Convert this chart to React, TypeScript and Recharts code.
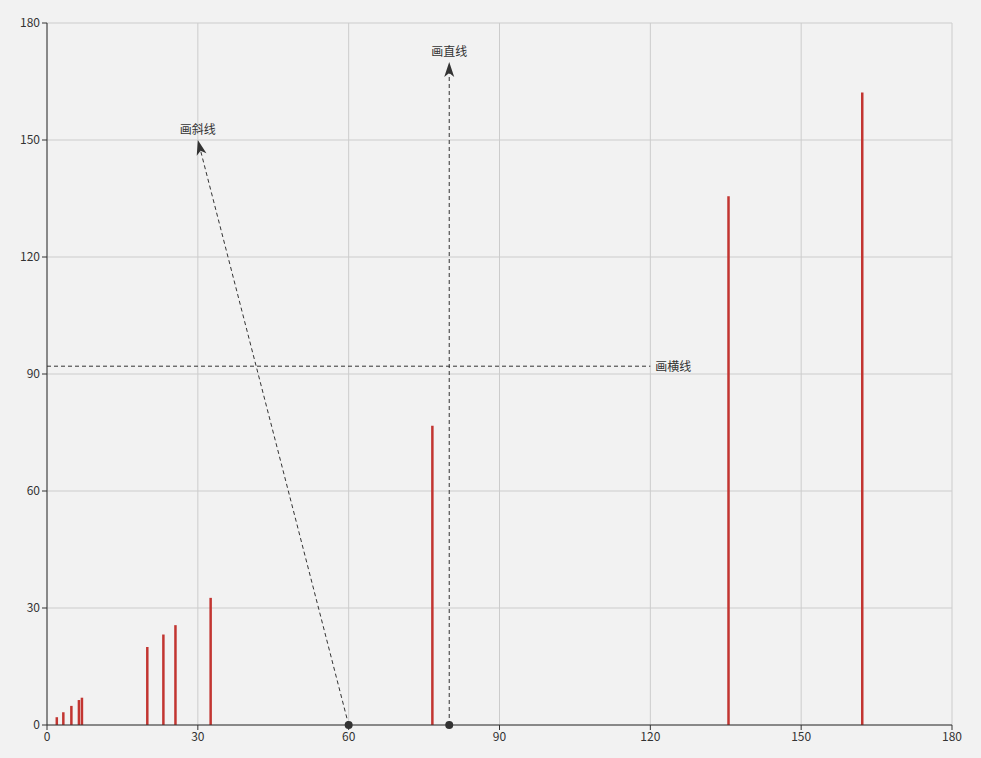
import React from 'react';
import { ComposedChart, Bar, XAxis, YAxis, CartesianGrid, ReferenceLine, ReferenceDot } from 'recharts';

const rainfall = [2.0, 4.9, 7.0, 23.2, 25.6, 76.7, 135.6, 162.2, 32.6, 20.0, 6.4, 3.3];
const ticks = [0, 30, 60, 90, 120, 150, 180];

// mark lines: start point, end point, label
const flatLine = { from: [0, 92], to: [120, 92], label: '画横线' };
const upLine = { from: [80, 0], to: [80, 170], label: '画直线' };
const slantLine = { from: [60, 0], to: [30, 150], label: '画斜线' };

const data = rainfall.map((v) => ({ x: v, y: v }));

const INK = '#333';
const CJK = '"Noto Sans CJK SC", "Noto Sans", sans-serif';

function makeShape(label: string, arrow: boolean, labelSide: 'end' | 'right') {
  return (props: any) => {
    const { x1, y1, x2, y2 } = props;
    const dx = x2 - x1;
    const dy = y2 - y1;
    const len = Math.sqrt(dx * dx + dy * dy) || 1;
    const ux = dx / len;
    const uy = dy / len;
    const px = -uy;
    const py = ux;
    const head = 15;
    const half = 5;
    const notch = 11;
    const bx = x2 - ux * head;
    const by = y2 - uy * head;
    const nx = x2 - ux * notch;
    const ny = y2 - uy * notch;
    const pts = `${x2},${y2} ${bx + px * half},${by + py * half} ${nx},${ny} ${bx - px * half},${by - py * half}`;
    return (
      <g>
        <line x1={x1} y1={y1} x2={arrow ? nx : x2} y2={arrow ? ny : y2} stroke={INK} strokeWidth={1} strokeDasharray="4 3" />
        {arrow && <polygon points={pts} fill={INK} />}
        {labelSide === 'end' ? (
          <text x={x2} y={y2 - 6} textAnchor="middle" fontSize={12} fill={INK} fontFamily={CJK}>{label}</text>
        ) : (
          <text x={x2 + 5} y={y2} dy="0.4em" textAnchor="start" fontSize={12} fill={INK} fontFamily={CJK}>{label}</text>
        )}
      </g>
    );
  };
}

export default function App() {
  return (
    <div style={{ position: 'fixed', left: 0, top: 0, width: 981, height: 758, background: '#f2f2f2' }}>
      <ComposedChart width={981} height={758} data={data} margin={{ top: 23, right: 29, bottom: 0, left: 0 }}>
        <CartesianGrid stroke="#ccc" strokeDasharray="" />
        <XAxis
          type="number"
          dataKey="x"
          domain={[0, 180]}
          ticks={ticks}
          height={33}
          tickSize={5}
          axisLine={{ stroke: INK }}
          tickLine={{ stroke: INK }}
          tick={{ fill: INK, fontSize: 12, fontFamily: CJK }}
        />
        <YAxis
          type="number"
          domain={[0, 180]}
          ticks={ticks}
          width={47}
          tickSize={5}
          axisLine={{ stroke: INK }}
          tickLine={{ stroke: INK }}
          tick={{ fill: INK, fontSize: 12, fontFamily: CJK }}
        />
        <Bar dataKey="y" fill="#c23531" barSize={2.5} isAnimationActive={false} />
        <ReferenceLine
          segment={[{ x: flatLine.from[0], y: flatLine.from[1] }, { x: flatLine.to[0], y: flatLine.to[1] }]}
          shape={makeShape(flatLine.label, false, 'right')}
        />
        <ReferenceLine
          segment={[{ x: upLine.from[0], y: upLine.from[1] }, { x: upLine.to[0], y: upLine.to[1] }]}
          shape={makeShape(upLine.label, true, 'end')}
        />
        <ReferenceLine
          segment={[{ x: slantLine.from[0], y: slantLine.from[1] }, { x: slantLine.to[0], y: slantLine.to[1] }]}
          shape={makeShape(slantLine.label, true, 'end')}
        />
        <ReferenceDot x={slantLine.from[0]} y={slantLine.from[1]} r={4} fill={INK} stroke="none" />
        <ReferenceDot x={upLine.from[0]} y={upLine.from[1]} r={4} fill={INK} stroke="none" />
      </ComposedChart>
    </div>
  );
}
